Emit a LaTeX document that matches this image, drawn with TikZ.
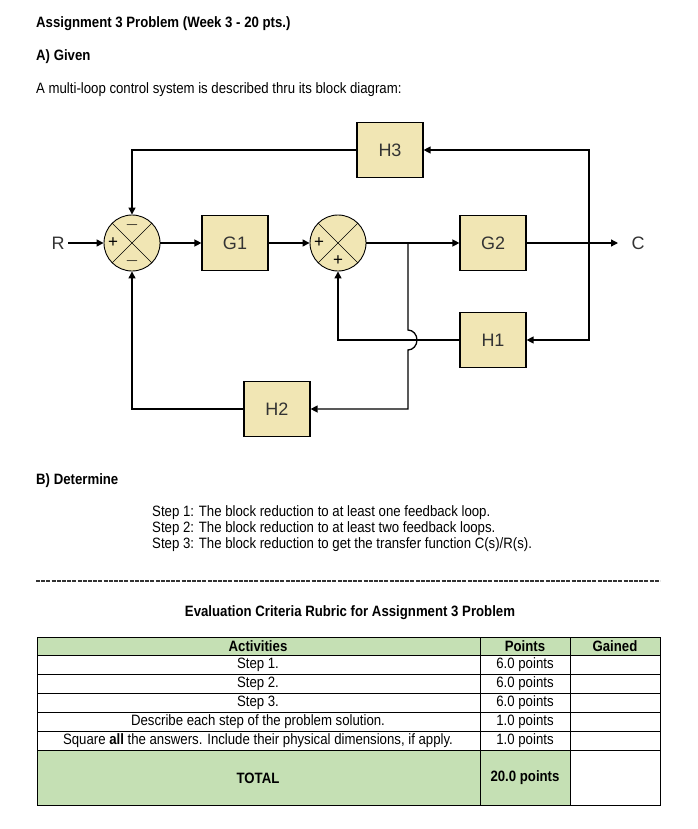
\documentclass[tikz,border=0pt]{standalone}
\usepackage{fontspec}
\setmainfont{Liberation Sans}
\newfontfamily\narrow{Liberation Sans}[FakeStretch=0.88]
\usetikzlibrary{arrows.meta}
\definecolor{blockfill}{RGB}{241,230,180}
\definecolor{rubricgreen}{RGB}{197,224,180}

\begin{document}
\begin{tikzpicture}[x=1pt, y=-1pt,
        >={Triangle[length=7pt,width=7pt]},
        block/.style={draw, fill=blockfill, minimum width=66pt, minimum height=55pt,
            line width=1.2pt, text=black!80, font=\fontsize{18}{18}\selectfont},
        sumnode/.style={draw, circle, fill=blockfill, minimum size=56pt, inner sep=0pt,
            line width=0.9pt},
        sign/.style={inner sep=0pt, font=\fontsize{17}{17}\selectfont},
        wire/.style={line width=1.3pt},
        txt/.style={anchor=west, inner sep=0pt, font=\narrow\fontsize{15}{17}\selectfont},
        head/.style={anchor=west, inner sep=0pt, font=\narrow\bfseries\fontsize{15}{17}\selectfont},
        cell/.style={inner sep=0pt, font=\narrow\fontsize{15}{17}\selectfont}]
        \useasboundingbox (0,0) rectangle (697,829);

        % text above the diagram
        \node[head] (title) at (36,24) {Assignment 3 Problem (Week 3 - 20 pts.)};
        \node[head] (given) at (36,57) {A) Given};
        \node[txt] (intro) at (36,90) {A multi-loop control system is described thru its block diagram:};

        % block diagram
        \node[sumnode] (s1) at (132,243) {};
        \node[sumnode] (s2) at (338,243) {};
        \draw (s1.north west) -- (s1.south east);
        \draw (s1.north east) -- (s1.south west);
        \draw (s2.north west) -- (s2.south east);
        \draw (s2.north east) -- (s2.south west);
        \node[sign] (s1l) at (113,243) {+};
        \node[sign] (s1t) at (132,225) {$-$};
        \node[sign] (s1b) at (132,261) {$-$};
        \node[sign] (s2l) at (319,243) {+};
        \node[sign] (s2b) at (338,261) {+};

        \node[block] (g1) at (235,243) {G1};
        \node[block] (g2) at (493,243) {G2};
        \node[block] (h3) at (390,150) {H3};
        \node[block] (h1) at (493,340) {H1};
        \node[block] (h2) at (277,409) {H2};

        \node[text=black!80, font=\fontsize{18}{18}\selectfont] (rin) at (58,243) {R};
        \node[text=black!80, font=\fontsize{18}{18}\selectfont] (cout) at (638,243) {C};
        \coordinate (cend) at (618,243);
        \coordinate (b1) at (589,243);
        \coordinate (b2) at (408,243);
        \coordinate (jmp) at (408,330);
        \coordinate (b3) at (408,409);

        \draw[wire,->] (rin) -- (s1);
        \draw[wire,->] (s1) -- (g1);
        \draw[wire,->] (g1) -- (s2);
        \draw[wire,->] (s2) -- (g2);
        \draw[wire,->] (g2) -- (cend);
        \draw[wire,->] (b1) |- (h3);
        \draw[wire,->] (b1) |- (h1);
        \draw[wire,->] (h3) -| (s1);
        \draw[wire,->] (h1) -| (s2);
        \draw[wire,->] (h2) -| (s1);
        \draw[wire,->] (b2) -- (jmp) arc[start angle=-90, end angle=90, x radius=9, y radius=10]
            -- (b3) -- (h2);

        % second part
        \node[head] (det) at (36,481) {B) Determine};
        \node[txt] (st1) at (152,513) {Step 1: The block reduction to at least one feedback loop.};
        \node[txt] (st2) at (152,529) {Step 2: The block reduction to at least two feedback loops.};
        \node[txt] (st3) at (152,545) {Step 3: The block reduction to get the transfer function C(s)/R(s).};

        \draw[line width=1.6pt, dash pattern=on 4pt off 1.2pt, black!80] (36,581) -- (660,581);

        \node[head, anchor=center] (rubric) at (350,613) {Evaluation Criteria Rubric for Assignment 3 Problem};

        % rubric table
        \fill[rubricgreen] (37,637) rectangle (660,655);
        \fill[rubricgreen] (37,750) rectangle (570,805);
        \draw[line width=1pt] (37,637) rectangle (660,805);
        \foreach \y in {655,674,693,712,731,750}
            \draw[line width=1pt] (37,\y) -- (660,\y);
        \draw[line width=1pt] (480,637) -- (480,805);
        \draw[line width=1pt] (570,637) -- (570,805);

        \node[cell, font=\narrow\bfseries\fontsize{15}{17}\selectfont] (act) at (258,646) {Activities};
        \node[cell, font=\narrow\bfseries\fontsize{15}{17}\selectfont] (pts) at (525,646) {Points};
        \node[cell, font=\narrow\bfseries\fontsize{15}{17}\selectfont] (gain) at (615,646) {Gained};
        \node[cell] (a1) at (258,665) {Step 1.};
        \node[cell] (a2) at (258,684) {Step 2.};
        \node[cell] (a3) at (258,703) {Step 3.};
        \node[cell] (a4) at (258,722) {Describe each step of the problem solution.};
        \node[cell] (a5) at (258,741) {Square \textbf{all} the answers. Include their physical dimensions, if apply.};
        \node[cell] (p1) at (525,665) {6.0 points};
        \node[cell] (p2) at (525,684) {6.0 points};
        \node[cell] (p3) at (525,703) {6.0 points};
        \node[cell] (p4) at (525,722) {1.0 points};
        \node[cell] (p5) at (525,741) {1.0 points};
        \node[cell, font=\narrow\bfseries\fontsize{15}{17}\selectfont] (tot) at (258,778) {TOTAL};
        \node[cell, font=\narrow\bfseries\fontsize{15}{17}\selectfont] (ptot) at (525,778) {20.0 points};
\end{tikzpicture}
\end{document}
